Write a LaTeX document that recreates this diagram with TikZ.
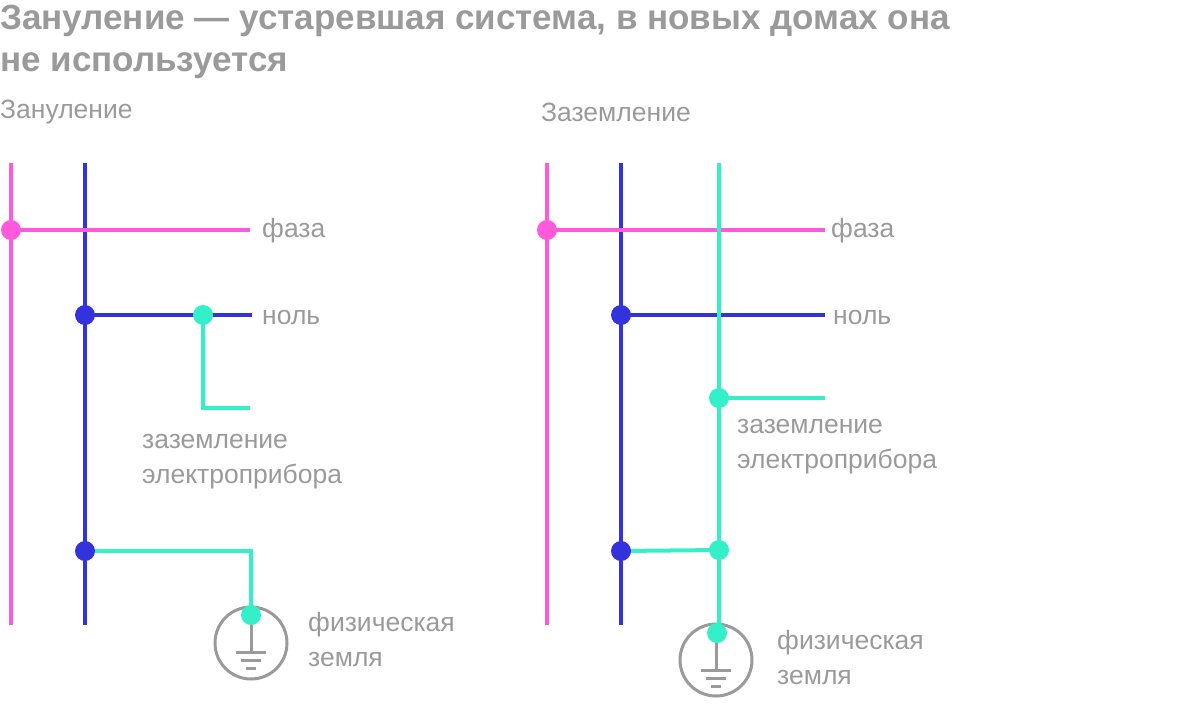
\documentclass[tikz,border=0pt]{standalone}
\usepackage{fontspec}
\setmainfont{Liberation Sans}
\definecolor{pk}{HTML}{FF5ADC}
\definecolor{bl}{HTML}{3333DD}
\definecolor{gr}{HTML}{33F0C8}
\definecolor{gy}{HTML}{9A9A9A}
\begin{document}
\begin{tikzpicture}[x=1pt,y=-1pt,
  wire/.style={line width=4pt},
  dot/.style={circle,fill=#1,inner sep=0pt,minimum size=20pt},
  lbl/.style={anchor=west,text=gy,font=\fontsize{26.5}{35}\selectfont,inner sep=0pt,align=left},
  gnd/.style={draw=gy,line width=3pt,circle,inner sep=0pt,minimum size=72pt}]
\useasboundingbox (0,0) rectangle (1200,705);
\node[anchor=north west,inner sep=0pt,text=gy,font=\fontsize{35}{42}\selectfont\bfseries,align=left] (title) at (0,5) {Зануление — устаревшая система, в новых домах она\\не используется};
\node[lbl] (s1) at (0,112) {Зануление};
\node[lbl] (s2) at (541,112) {Заземление};
% left
\coordinate (lp1) at (11,163); \coordinate (lp2) at (11,625);
\coordinate (lb1) at (85,163); \coordinate (lb2) at (85,625);
\draw[wire,pk] (lp1)--(lp2);
\draw[wire,bl] (lb1)--(lb2);
\node[lbl] (lf) at (262,231) {фаза};
\node[lbl] (ln) at (262,317) {ноль};
\draw[wire,pk] (11,230)--(250,230);
\draw[wire,bl] (85,315)--(252,315);
\node[gnd] (lc) at (251,643) {};
\draw[wire,gr] (203,315)--(203,408)--(250,408);
\draw[wire,gr] (85,551)--(251,551)--(251,615);
\draw[gy,line width=3pt] (251,615)--(251,652) (236,652)--(266,652) (241,660)--(261,660) (246,668)--(256,668);
\node[dot=pk] at (11,230) {};
\node[dot=bl] at (85,315) {};
\node[dot=gr] at (203,315) {};
\node[dot=bl] at (85,551) {};
\node[dot=gr] at (251,615) {};
\node[lbl] (le) at (142,462) {заземление\\электроприбора};
\node[lbl] (lz) at (308,640) {физическая\\земля};
% right
\draw[wire,pk] (547,163)--(547,625);
\draw[wire,bl] (621,163)--(621,625);
\node[lbl] (rf) at (831,231) {фаза};
\node[lbl] (rn) at (833,317) {ноль};
\draw[wire,pk] (547,230)--(825,230);
\draw[wire,bl] (621,315)--(825,315);
\node[gnd] (rc) at (716,660) {};
\draw[wire,gr] (719,163)--(719,633);
\draw[wire,gr] (719,398)--(825,398);
\draw[wire,gr] (621,551)--(719,550);
\draw[gy,line width=3pt] (716,633)--(716,670) (701,670)--(731,670) (706,678)--(726,678) (711,686)--(721,686);
\node[dot=pk] at (547,230) {};
\node[dot=bl] at (621,315) {};
\node[dot=gr] at (719,398) {};
\node[dot=bl] at (621,551) {};
\node[dot=gr] at (719,550) {};
\node[dot=gr] at (717,633) {};
\node[lbl] (re) at (737,447) {заземление\\электроприбора};
\node[lbl] (rz) at (777,658) {физическая\\земля};
\end{tikzpicture}
\end{document}
